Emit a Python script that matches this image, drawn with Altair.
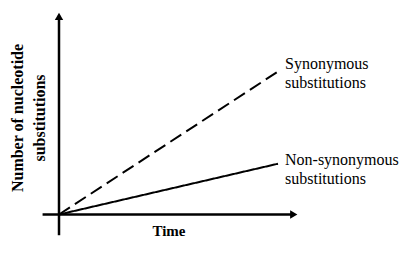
import altair as alt
import pandas as pd

# Conceptual data (arbitrary units)
time = [0, 10]
synonymous = [0, 10]
non_synonymous = [0, 3.55]
series_names = ["Synonymous", "Non-synonymous"]
line_labels = ["Synonymous\nsubstitutions", "Non-synonymous\nsubstitutions"]
x_title = "Time"
y_title = ["Number of nucleotide", "substitutions"]

SERIF = "Liberation Serif, Times New Roman, Times, serif"

W, H = 415, 253
X0, Y0 = 59, 214.5     # pixel of origin
KX, KY = 21.9, 14.3    # pixels per unit

xs = alt.Scale(domain=[-X0 / KX, (W - X0) / KX], nice=False, zero=False)
ys = alt.Scale(domain=[-(H - Y0) / KY, Y0 / KY], nice=False, zero=False)

lines = pd.DataFrame({
    "t": time * 2,
    "v": synonymous + non_synonymous,
    "series": [series_names[0]] * 2 + [series_names[1]] * 2,
})

ends = pd.DataFrame({
    "t": [time[-1], time[-1]],
    "v": [synonymous[-1], non_synonymous[-1]],
    "label": line_labels,
})

axes_df = pd.DataFrame({
    "t": [-0.75, 0.0], "t2": [10.75, 0.0],
    "v": [0.0, -1.45], "v2": [0.0, 13.9],
})
arrows = pd.DataFrame({
    "t": [10.72, 0.0], "v": [0.0, 13.85],
    "shape": ["triangle-right", "triangle-up"],
})

base = alt.Chart(lines)

data_lines = base.mark_line(color="black", strokeWidth=2).encode(
    x=alt.X("t:Q", scale=xs, axis=None),
    y=alt.Y("v:Q", scale=ys, axis=None),
    detail="series:N",
    strokeDash=alt.StrokeDash(
        "series:N",
        scale=alt.Scale(domain=series_names, range=[[13, 6], [1, 0]]),
        legend=None,
    ),
)

axis_rules = alt.Chart(axes_df).mark_rule(color="black", strokeWidth=2.5).encode(
    x=alt.X("t:Q", scale=xs, axis=None), x2="t2:Q",
    y=alt.Y("v:Q", scale=ys, axis=None), y2="v2:Q",
)

arrow_heads = alt.Chart(arrows).mark_point(
    filled=True, color="black", opacity=1, size=70
).encode(
    x=alt.X("t:Q", scale=xs, axis=None),
    y=alt.Y("v:Q", scale=ys, axis=None),
    shape=alt.Shape("shape:N", scale=None),
)

syn_label = alt.Chart(ends.iloc[[0]]).mark_text(
    align="left", baseline="middle", font=SERIF, fontSize=16,
    lineBreak="\n", lineHeight=19, dx=7, dy=-8, color="black",
).encode(
    x=alt.X("t:Q", scale=xs, axis=None),
    y=alt.Y("v:Q", scale=ys, axis=None),
    text="label:N",
)
non_label = alt.Chart(ends.iloc[[1]]).mark_text(
    align="left", baseline="middle", font=SERIF, fontSize=16,
    lineBreak="\n", lineHeight=19, dx=7, dy=-4, color="black",
).encode(
    x=alt.X("t:Q", scale=xs, axis=None),
    y=alt.Y("v:Q", scale=ys, axis=None),
    text="label:N",
)

xtitle = alt.Chart(pd.DataFrame({"text": [x_title]})).mark_text(
    font=SERIF, fontSize=15, fontWeight="bold",
    align="center", baseline="middle", color="black",
).encode(x=alt.value(169), y=alt.value(231), text="text:N")

ytitle = alt.Chart(pd.DataFrame({"text": ["\n".join(y_title)]})).mark_text(
    font=SERIF, fontSize=16, fontWeight="bold",
    align="center", baseline="middle", angle=270, lineBreak="\n",
    lineHeight=22, color="black",
).encode(x=alt.value(18), y=alt.value(118), text="text:N")

chart = alt.layer(
    axis_rules, arrow_heads, data_lines, syn_label, non_label, xtitle, ytitle
).properties(
    width=W, height=H, padding=0, autosize=alt.AutoSizeParams(type="none"),
    background="white",
).configure_view(stroke=None)

chart.save("out.html", embed_options={"renderer": "svg", "actions": False})
